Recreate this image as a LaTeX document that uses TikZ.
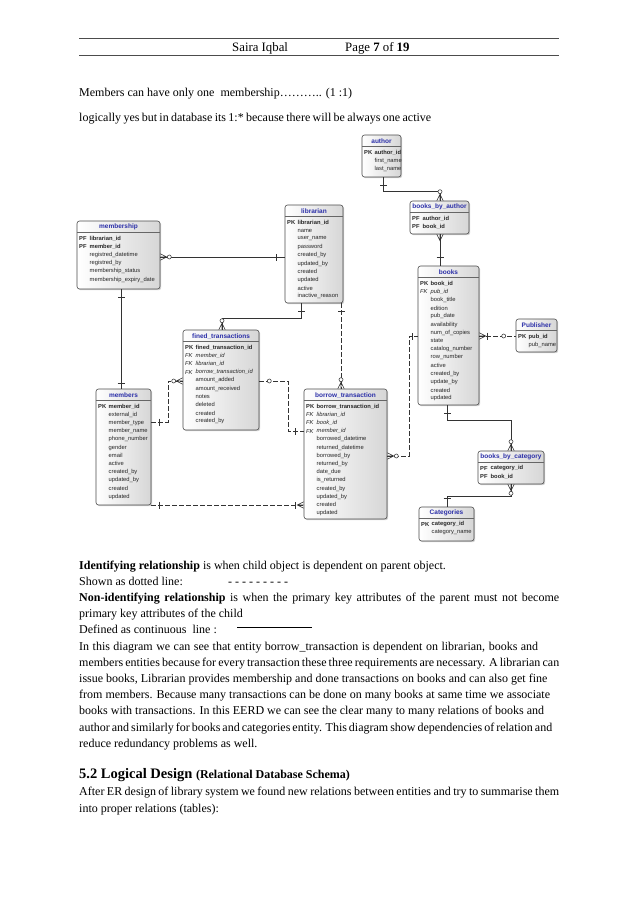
\documentclass[tikz,border=0pt]{standalone}
\usepackage{fontspec}
\setmainfont{Liberation Serif}
\newfontfamily\entsans{Liberation Sans}
\usetikzlibrary{shadows}
\definecolor{enttitlecol}{HTML}{2B2FA8}
\definecolor{relcol}{HTML}{333333}
\newcommand\nk{}
\newcommand\bodyfont{\fontsize{12}{14}\selectfont}
\newcommand\fitline[2]{\makebox[#1pt][s]{\spaceskip=0.25em plus 1em minus 0.12em\relax #2}}
\tikzset{
  entbox/.style={draw=black!70, line width=0.6pt, rounded corners=2.5pt,
    left color=white, right color=black!16,
    drop shadow={opacity=0.35, shadow xshift=1.2pt, shadow yshift=-1.2pt}, inner sep=0pt},
  etitle/.style={inner sep=0pt, text=enttitlecol, font=\entsans\bfseries\fontsize{6.5}{7}\selectfont},
  esep/.style={draw=black!60, line width=0.4pt},
  ekey/.style={anchor=west, inner sep=0pt, text=black!85, font=\entsans\fontsize{5.8}{7}\selectfont},
  efield/.style={anchor=west, inner sep=0pt, text=black!85, font=\entsans\fontsize{5.8}{7}\selectfont},
  rel/.style={draw=relcol, line width=0.55pt},
  reld/.style={rel, dash pattern=on 4.5pt off 2.5pt},
  txt/.style={anchor=base west, inner sep=0pt, font=\bodyfont},
  hdr/.style={anchor=base west, inner sep=0pt, font=\fontsize{12.8}{15}\selectfont},
  crow/.pic={\draw[rel,solid] (0,-3.2) -- (6.5,0) -- (0,3.2) (0,0) -- (6.5,0);},
  crowring/.pic={\draw[rel,solid] (0,-3.2) -- (6.5,0) -- (0,3.2) (0,0) -- (6.5,0);
                 \draw[rel,solid,fill=white] (9,0) circle (2);},
  crowtick/.pic={\draw[rel,solid] (0,-3.2) -- (6.5,0) -- (0,3.2) (0,0) -- (6.5,0);
                 \draw[rel,solid] (8,-3.5) -- (8,3.5);},
  ringonly/.pic={\draw[rel,solid,fill=white] (10,0) circle (2);},
  ringfar/.pic={\draw[rel,solid,fill=white] (12,0) circle (2);},
  tickA/.pic={\draw[rel,solid] (5,-3.5) -- (5,3.5);},
  tickB/.pic={\draw[rel,solid] (8,-3.5) -- (8,3.5);},
}
% name, x1, y1, x2, y2, title, rows
\newcommand\entity[7]{%
  \node[entbox, minimum width={(#4-#2)*1pt}, minimum height={(#5-#3)*1pt}] (#1) at ({(#2+#4)/2},{(#3+#5)/2}) {};
  \node[etitle] (#1-title) at ({(#2+#4)/2},{#3+6.3}) {#6};
  \draw[esep] (#2,{#3+11.5}) -- (#4,{#3+11.5});
  \foreach \k/\f/\t [count=\i] in {#7}{
    \node[ekey] (#1-k\i) at ({#2+2},{#3+17.5+(\i-1)*8.2}) {\f\k};
    \node[efield] (#1-f\i) at ({#2+12.5},{#3+17.5+(\i-1)*8.2}) {\f\t};
  }}
\begin{document}
\begin{tikzpicture}[x=1pt,y=-1pt]
\useasboundingbox (0,0) rectangle (638,903);
\fill[white] (0,0) rectangle (638,903);

% header
\draw[line width=0.6pt, black!70] (79,38) -- (559,38);
\draw[line width=0.6pt, black!70] (79,55) -- (559,55);
\node[hdr] (hname) at (232,51) {Saira Iqbal};
\node[hdr] (hpage) at (345,51) {Page \textbf{7} of \textbf{19}};

\node[txt] (l1) at (79,96) {Members can have only one \ membership\dots\dots\dots.. (1 :1)};
\node[txt] (l2) at (79,121) {\fitline{352}{logically yes but in database its 1:* because there will be always one active}};

% entities
\entity{author}{362}{135}{401}{177}{author}{PK/\bfseries/author\_id, \nk/\mdseries/first\_name, \nk/\mdseries/last\_name}
\entity{bba}{410}{201}{469}{234}{books\_by\_author}{PF/\bfseries/author\_id, PF/\bfseries/book\_id}
\entity{membership}{77}{221}{160}{289}{membership}{PF/\bfseries/librarian\_id, PF/\bfseries/member\_id, \nk/\mdseries/registred\_datetime, \nk/\mdseries/registred\_by, \nk/\mdseries/membership\_status, \nk/\mdseries/membership\_expiry\_date}
\entity{librarian}{285}{205}{343}{303}{librarian}{PK/\bfseries/librarian\_id, \nk/\mdseries/name, \nk/\mdseries/user\_name, \nk/\mdseries/password, \nk/\mdseries/created\_by, \nk/\mdseries/updated\_by, \nk/\mdseries/created, \nk/\mdseries/updated, \nk/\mdseries/active, \nk/\mdseries/inactive\_reason}
\entity{books}{418}{266}{479}{405}{books}{PK/\bfseries/book\_id, FK/\itshape/pub\_id, \nk/\mdseries/book\_title, \nk/\mdseries/edition, \nk/\mdseries/pub\_date, \nk/\mdseries/availability, \nk/\mdseries/num\_of\_copies, \nk/\mdseries/state, \nk/\mdseries/catalog\_number, \nk/\mdseries/row\_number, \nk/\mdseries/active, \nk/\mdseries/created\_by, \nk/\mdseries/update\_by, \nk/\mdseries/created, \nk/\mdseries/updated}
\entity{publisher}{516}{319}{557}{352}{Publisher}{PK/\bfseries/pub\_id, \nk/\mdseries/pub\_name}
\entity{fined}{183}{330}{259}{430}{fined\_transactions}{PK/\bfseries/fined\_transaction\_id, FK/\itshape/member\_id, FK/\itshape/librarian\_id, FK/\itshape/borrow\_transaction\_id, \nk/\mdseries/amount\_added, \nk/\mdseries/amount\_received, \nk/\mdseries/notes, \nk/\mdseries/deleted, \nk/\mdseries/created, \nk/\mdseries/created\_by}
\entity{members}{96}{389}{151}{505}{members}{PK/\bfseries/member\_id, \nk/\mdseries/external\_id, \nk/\mdseries/member\_type, \nk/\mdseries/member\_name, \nk/\mdseries/phone\_number, \nk/\mdseries/gender, \nk/\mdseries/email, \nk/\mdseries/active, \nk/\mdseries/created\_by, \nk/\mdseries/updated\_by, \nk/\mdseries/created, \nk/\mdseries/updated}
\entity{borrow}{304}{389}{387}{519}{borrow\_transaction}{PK/\bfseries/borrow\_transaction\_id, FK/\itshape/librarian\_id, FK/\itshape/book\_id, FK/\itshape/member\_id, \nk/\mdseries/borrowed\_datetime, \nk/\mdseries/returned\_datetime, \nk/\mdseries/borrowed\_by, \nk/\mdseries/returned\_by, \nk/\mdseries/date\_due, \nk/\mdseries/is\_returned, \nk/\mdseries/created\_by, \nk/\mdseries/updated\_by, \nk/\mdseries/created, \nk/\mdseries/updated}
\entity{bbc}{478}{451}{544}{484}{books\_by\_category}{PF/\bfseries/category\_id, PF/\bfseries/book\_id}
\entity{categories}{419}{507}{474}{541}{Categories}{PK/\bfseries/category\_id, \nk/\mdseries/category\_name}

% relationships
\draw[rel] (author.south -| 383,0) -- (383,191) -- (440,191) -- (bba.north -| 440,0);
\pic[rotate=-90] at (author.south -| 383,0) {tickB};
\pic[rotate=90] at (bba.north -| 440,0) {crowring};
\draw[rel] (bba.south -| 440,0) -- (books.north -| 440,0);
\pic[rotate=-90] at (bba.south -| 440,0) {crow};
\pic[rotate=90] at (books.north -| 440,0) {tickB};
\draw[rel] (membership.east |- 0,257) -- (librarian.west |- 0,257);
\pic at (membership.east |- 0,257) {crowring};
\pic[rotate=180] at (librarian.west |- 0,257) {tickB};
\draw[rel] (membership.south -| 121,0) -- (members.north -| 121,0);
\pic[rotate=-90] at (membership.south -| 121,0) {tickB};
\pic[rotate=90] at (members.north -| 121,0) {tickA};
\draw[rel] (librarian.south -| 301,0) -- (301,318) -- (222,318) -- (fined.north -| 222,0);
\pic[rotate=-90] at (librarian.south -| 301,0) {tickB};
\pic[rotate=90] at (fined.north -| 222,0) {crowring};
\draw[reld] (librarian.south -| 341,0) -- (borrow.north -| 341,0);
\pic[rotate=-90] at (librarian.south -| 341,0) {tickB};
\pic[rotate=90] at (borrow.north -| 341,0) {crowring};
\draw[reld] (members.east |- 0,422) -- (168,422) -- (168,381) -- (fined.west |- 0,381);
\pic at (members.east |- 0,422) {tickB};
\pic[rotate=180] at (fined.west |- 0,381) {crowring};
\draw[reld] (fined.east |- 0,381) -- (288,381) -- (288,431) -- (borrow.west |- 0,431);
\pic at (fined.east |- 0,381) {ringonly};
\pic[rotate=180] at (borrow.west |- 0,431) {tickB};
\draw[reld] (members.east |- 0,505) -- (borrow.west |- 0,505);
\pic at (members.east |- 0,505) {tickB};
\pic[rotate=180] at (borrow.west |- 0,505) {crowtick};
\draw[reld] (borrow.east |- 0,456) -- (409,456) -- (409,336) -- (books.west |- 0,336);
\pic at (borrow.east |- 0,456) {crowring};
\pic[rotate=180] at (books.west |- 0,336) {tickA};
\draw[reld] (books.east |- 0,336) -- (publisher.west |- 0,336);
\pic at (books.east |- 0,336) {crowtick};
\pic[rotate=180] at (publisher.west |- 0,336) {ringfar};
\draw[rel] (books.south -| 447,0) -- (447,420) -- (511,420) -- (bbc.north -| 511,0);
\pic[rotate=-90] at (books.south -| 447,0) {tickB};
\pic[rotate=90] at (bbc.north -| 511,0) {crowring};
\draw[rel] (bbc.south -| 511,0) -- (511,496) -- (447,496) -- (categories.north -| 447,0);
\pic[rotate=-90] at (bbc.south -| 511,0) {crowring};
\pic[rotate=90] at (categories.north -| 447,0) {tickB};

% text body
\node[txt] (p1) at (79,569) {\textbf{Identifying relationship} is when child object is dependent on parent object.};
\node[txt] (p2) at (79,585.2) {Shown as dotted line:};
\node[txt] (p2d) at (228,585.2) {- - - - - - - - -};
\node[txt] (p3) at (79,601.4) {\fitline{480}{\textbf{Non-identifying relationship} is when the primary key attributes of the parent must not become}};
\node[txt] (p4) at (79,617.6) {primary key attributes of the child};
\node[txt] (p5) at (79,633.8) {Defined as continuous \ line :};
\coordinate (cl1) at (237,627);
\coordinate (cl2) at (312,627);
\draw[line width=0.7pt] (cl1) -- (cl2);
\node[txt] (p6) at (79,650) {\fitline{459}{In this diagram we can see that entity borrow\_transaction is dependent on librarian, books and}};
\node[txt] (p7) at (79,666.2) {\fitline{480}{members entities because for every transaction these three requirements are necessary. A librarian can}};
\node[txt] (p8) at (79,682.4) {issue books, Librarian provides membership and done transactions on books and can also get fine};
\node[txt] (p9) at (79,698.6) {from members. Because many transactions can be done on many books at same time we associate};
\node[txt] (p10) at (79,714.8) {books with transactions. In this EERD we can see the clear many to many relations of books and};
\node[txt] (p11) at (79,731) {\fitline{473}{author and similarly for books and categories entity. This diagram show dependencies of relation and}};
\node[txt] (p12) at (79,747.2) {reduce redundancy problems as well.};
\node[txt] (h52) at (79,778) {\fontsize{14.5}{17}\selectfont\bfseries 5.2 Logical Design \fontsize{12}{14}\selectfont(Relational Database Schema)};
\node[txt] (p13) at (79,795) {\fitline{480}{After ER design of library system we found new relations between entities and try to summarise them}};
\node[txt] (p14) at (79,812) {into proper relations (tables):};
\end{tikzpicture}
\end{document}
